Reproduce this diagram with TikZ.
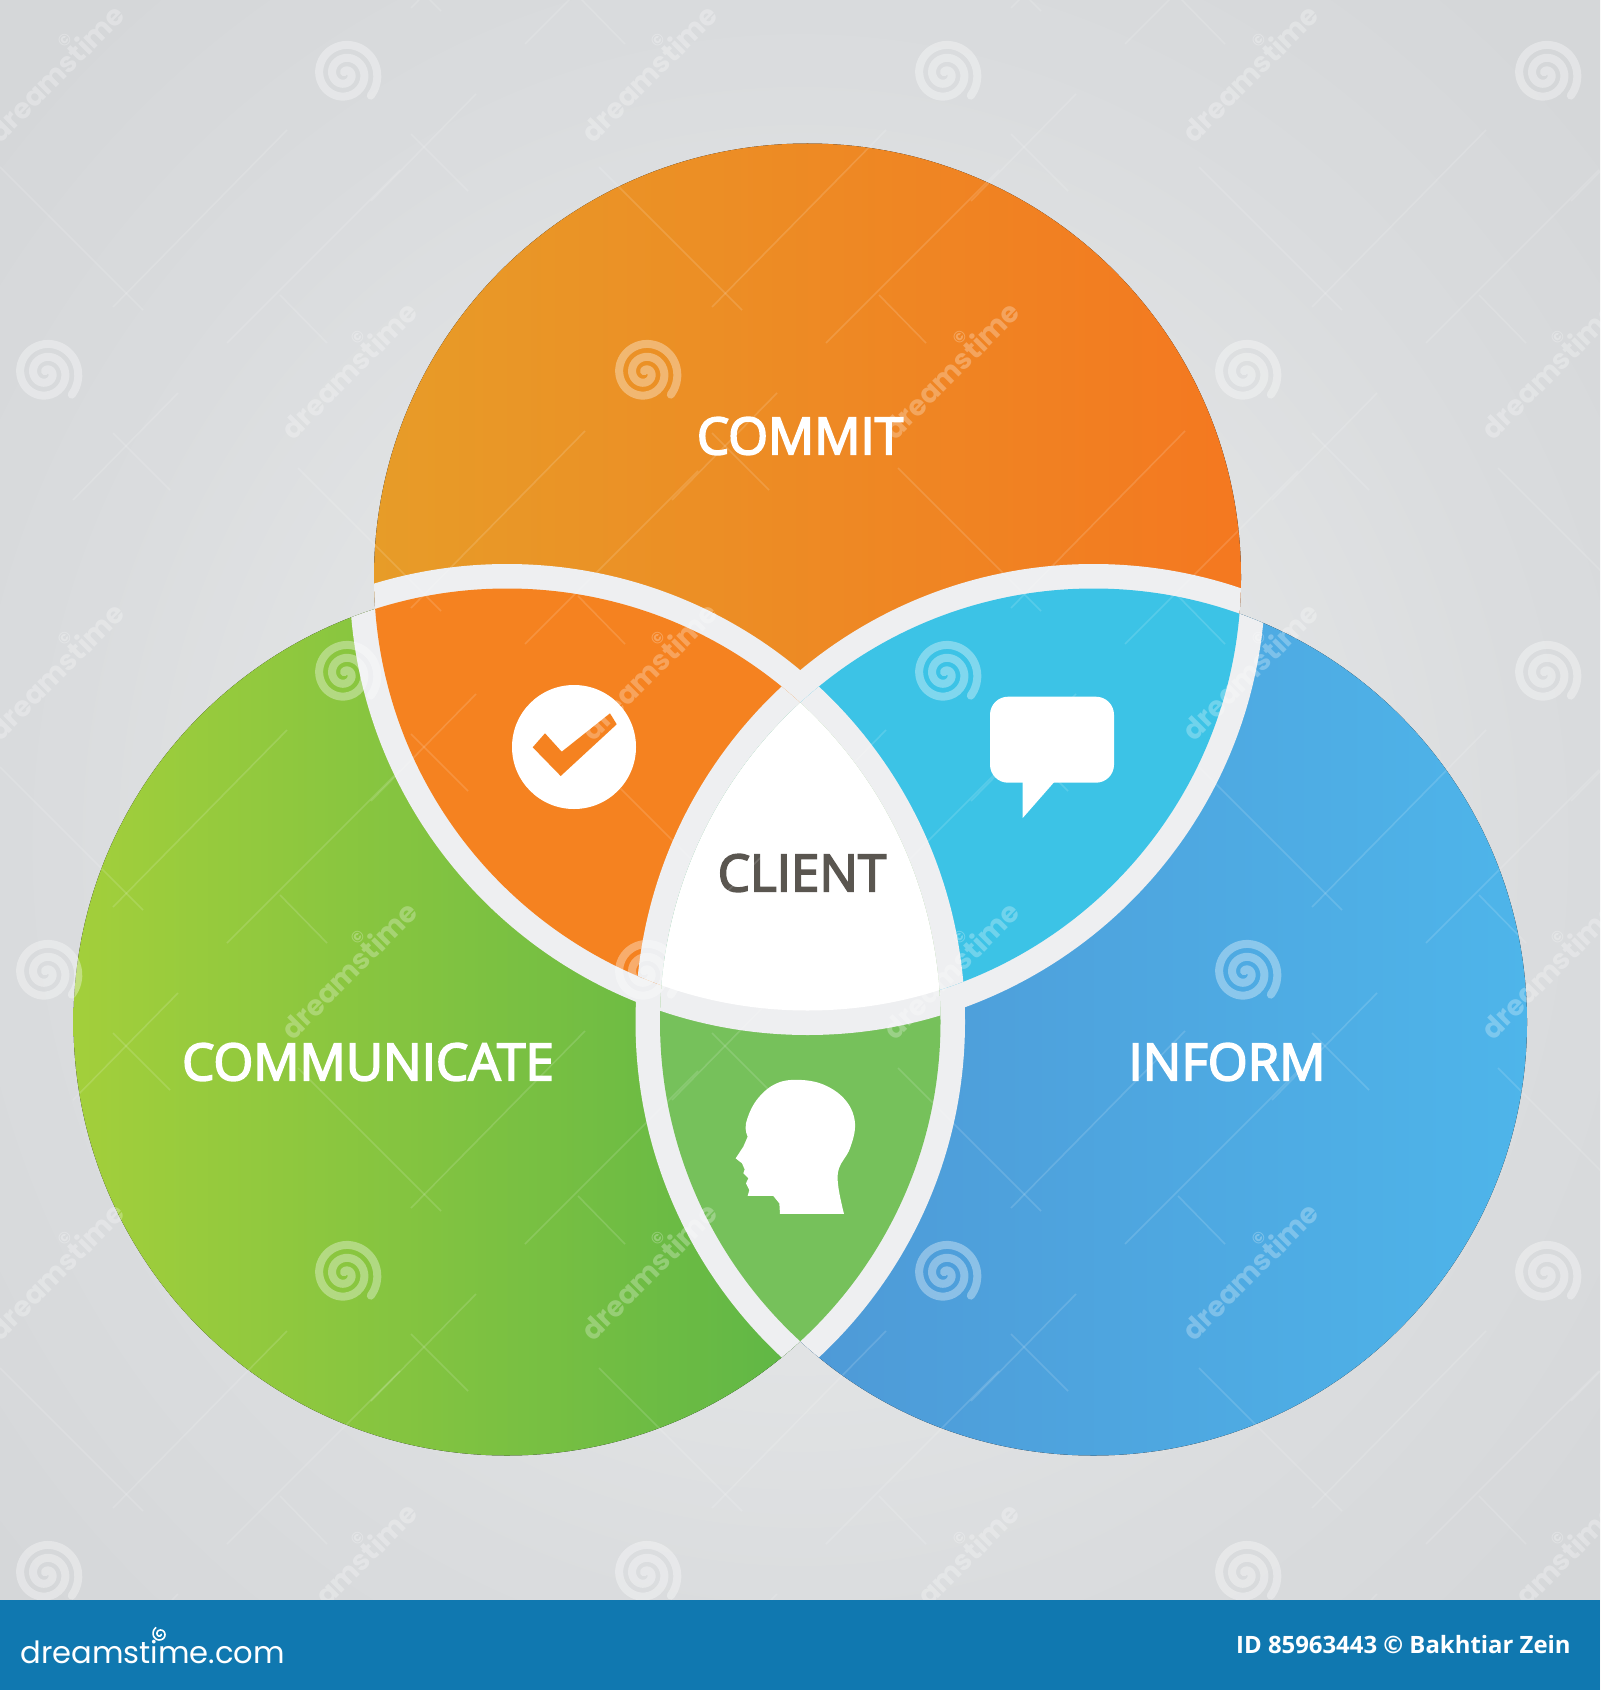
\documentclass[tikz,border=0pt]{standalone}
\usepackage{fontspec}
\newfontfamily\lab[FakeBold=3.4]{Open Sans}
\newfontfamily\foot{Open Sans}
\newfontfamily\logo{Poppins}
\definecolor{bgin}{HTML}{E4E6E7}
\definecolor{bgmid}{HTML}{E2E4E5}
\definecolor{bgedge}{HTML}{DADCDE}
\definecolor{bgout}{HTML}{D5D7D9}
\definecolor{band}{HTML}{EEEFF1}
\definecolor{orL}{HTML}{E79C28}
\definecolor{orR}{HTML}{F47820}
\definecolor{grL}{HTML}{A3CF3B}
\definecolor{grR}{HTML}{52B248}
\definecolor{blL}{HTML}{4E94D3}
\definecolor{blR}{HTML}{4EB5EA}
\definecolor{lensO}{HTML}{F58220}
\definecolor{lensC}{HTML}{3CC3E6}
\definecolor{lensG}{HTML}{76C15B}
\definecolor{ink}{HTML}{5A5650}
\definecolor{footbar}{HTML}{1078B0}
\def\R{433.5}
\def\RO{458}
\pgfdeclareradialshading{bgrad}{\pgfpointorigin}{color(0bp)=(bgin); color(14bp)=(bgmid); color(23bp)=(bgedge); color(33bp)=(bgout); color(50bp)=(bgout)}
\tikzset{
  lbl/.style={font=\lab\fontsize{25.6}{30}\selectfont,text=white,inner sep=0pt},
  wmtext/.style={font=\logo\bfseries\fontsize{14}{18}\selectfont,text=white,text opacity=.27,rotate=45,inner sep=0pt},
  wmspiral/.style={draw=white,draw opacity=.35,line width=4pt,line cap=round},
  wmline/.style={draw=white,draw opacity=.14,line width=.8pt},
  footer/.style={font=\foot\bfseries\fontsize{11.95}{14}\selectfont,text=white,inner sep=0pt}
}
\begin{document}
\begin{tikzpicture}[x=0.5pt,y=-0.5pt]
\useasboundingbox (0,0) rectangle (1600,1690);
\begin{scope}
\clip (0,0) rectangle (1600,1690);
\shade[shading=bgrad] (0,0) rectangle (1600,1690);
\coordinate (T) at (807.5,577);
\coordinate (G) at (507,1022);
\coordinate (B) at (1093.5,1022);
% base discs
\fill[left color=grL,right color=grR] (G) circle[radius=\R];
\fill[left color=blL,right color=blR] (B) circle[radius=\R];
\fill[left color=orL,right color=orR] (T) circle[radius=\R];
% bands: each disc, inside each other disc
\foreach \p/\q in {T/G,T/B,G/T,G/B,B/T,B/G}{
  \begin{scope}
    \clip (\p) circle[radius=\R];
    \fill[band] (\q) circle[radius=\RO];
  \end{scope}
}
% lenses
\foreach \p/\q/\r/\c in {T/G/B/lensO,T/B/G/lensC,G/B/T/lensG}{
  \begin{scope}
    \clip (\p) circle[radius=\R];
    \clip (\q) circle[radius=\R];
    \fill[\c] (0,0) rectangle (1600,1690);
    \fill[band] (\r) circle[radius=\RO];
  \end{scope}
}
% centre
\begin{scope}
  \clip (T) circle[radius=\R];
  \clip (G) circle[radius=\R];
  \fill[white] (B) circle[radius=\R];
\end{scope}
% tick icon
\fill[white] (574,747) circle[radius=62];
\fill[lensO] (532.7,747.3) -- (545,733.3) -- (561.7,751.7) -- (610,713.3) -- (616.7,724.3) -- (560.7,776) -- cycle;
% bubble icon
\fill[white,rounded corners=18*0.5pt] (990,696.7) rectangle (1114,782.7);
\fill[white] (1022.7,780) -- (1022.7,818) -- (1056,780) -- cycle;
% head icon
\begin{scope}[shift={(620,960)},x=0.5pt/3,y=-0.5pt/3]
\fill[white] plot[smooth,tension=.65] coordinates {(672,762)(655,680)(657,625)(690,565)(705,490)(680,425)(620,378)(545,360)(470,370)(410,420)(378,490)(383,530)}
  -- (370,560) -- (347,595) -- (366,610) -- (374,628) -- (370,640) -- (385,655) -- (378,670) -- (388,690) -- (383,708) -- (460,708) -- (478,730) -- (480,762) -- cycle;
\end{scope}
% labels
\node[lbl] (commit) at (800,436) {COMMIT};
\node[lbl] (communicate) at (368,1062) {COMMUNICATE};
\node[lbl] (inform) at (1227,1062) {INFORM};
\node[lbl,text=ink] (client) at (802,873) {CLIENT};
% stock mark: hatch lines
\foreach \cx/\cy in {348/71,948/71,1548/71,50/370,649/370,1249/370,348/671,948/671,1548/671,50/970,649/970,1249/970,348/1271,948/1271,1548/1271,50/1571,649/1571,1249/1571}{
  \draw[wmline] (\cx+63,\cy-63) -- (\cx+237,\cy-240);
  \draw[wmline] (\cx+177,\cy-27) -- (\cx+350,\cy-200);
  \draw[wmline] (\cx-50,\cy-203) -- (\cx+93,\cy-60);
  \draw[wmline] (\cx+230,\cy-75) -- (\cx+277,\cy-27);
  \draw[wmline] (\cx+23,\cy+130) -- (\cx+128,\cy+23);
  \draw[wmline] (\cx+63,\cy+63) -- (\cx+120,\cy+120);
}
% stock mark: spirals
\foreach \cx/\cy in {345/74,945/74,1545/74,46/373,645/373,1245/373,345/674,945/674,1545/674,46/973,645/973,1245/973,345/1274,945/1274,1545/1274,46/1574,645/1574,1245/1574}{
  \draw[wmspiral] plot[domain=0:880,samples=80,smooth,variable=\a] ({\cx+(2+\a*0.036)*cos(\a-120)},{\cy+(2+\a*0.036)*sin(\a-120)});
}
% stock mark: words
\foreach \cx/\cy [count=\i] in {52/69,645/69,1246/69,345/366,947/366,1545/366,52/667,645/667,1246/667,345/966,947/966,1545/966,52/1267,645/1267,1246/1267,345/1567,947/1567,1545/1567}{
  \node[wmtext] (wm\i) at (\cx,\cy) {dreams\makebox[0pt][l]{\raisebox{11pt}{\fontsize{8}{8}\selectfont ©}}time};
}
% footer bar
\fill[footbar] (0,1600) rectangle (1600,1690);
\node[footer,anchor=east] (credit) at (1571,1645) {ID 85963443 © Bakhtiar Zein};
\node[font=\logo\fontsize{15.3}{18}\selectfont,text=white,inner sep=0pt,anchor=base west] (site) at (20,1663) {dreamstime.com};
\draw[white,line width=0.8pt] plot[domain=0:600,samples=40,smooth,variable=\a] ({160+(1+\a*0.011)*cos(\a)},{1634+(1+\a*0.011)*sin(\a)});
\end{scope}
\end{tikzpicture}
\end{document}
